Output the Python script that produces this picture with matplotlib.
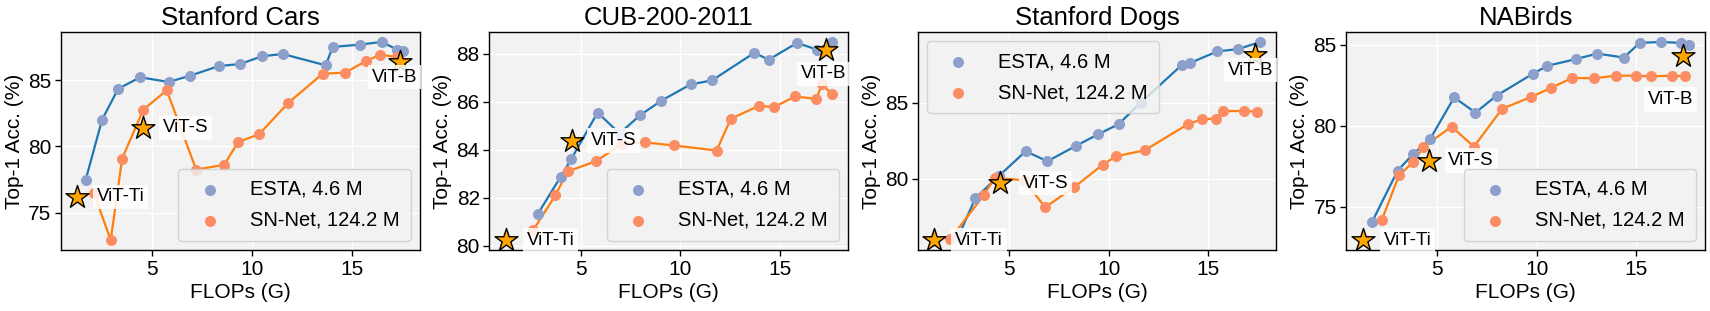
import matplotlib
matplotlib.use("Agg")
import matplotlib.pyplot as plt
from matplotlib.ticker import MultipleLocator

plt.rcParams['font.family'] = ['Liberation Sans', 'DejaVu Sans']

titles = ["Stanford Cars", "CUB-200-2011", "Stanford Dogs", "NABirds"]

# ESTA curves
cars_esta_x = [1.70, 2.52, 3.32, 4.42, 5.85, 6.92, 8.37, 9.42, 10.5, 11.55, 13.7, 14.05, 15.42, 16.5, 17.28, 17.58]
cars_esta_y = [77.49, 82.03, 84.35, 85.23, 84.87, 85.35, 86.08, 86.23, 86.81, 86.99, 86.13, 87.52, 87.70, 87.90, 87.32, 87.22]
cub_esta_x = [2.84, 4.0, 4.52, 5.85, 6.96, 7.97, 9.06, 10.52, 11.6, 13.73, 14.44, 15.87, 16.87, 17.61]
cub_esta_y = [81.32, 82.88, 83.6, 85.55, 84.68, 85.43, 86.05, 86.72, 86.89, 88.04, 87.75, 88.45, 88.17, 88.49]
dogs_esta_x = [2.47, 3.31, 4.5, 5.83, 6.92, 8.35, 9.45, 10.5, 11.6, 13.68, 14.07, 15.45, 16.5, 17.6]
dogs_esta_y = [76.26, 78.74, 80.2, 81.81, 81.15, 82.16, 82.91, 83.59, 85.0, 87.49, 87.6, 88.37, 88.52, 88.99]
nab_esta_x = [1.71, 3.01, 3.8, 4.63, 5.85, 6.92, 7.98, 9.82, 10.54, 11.96, 13.03, 14.38, 15.17, 16.22, 17.26, 17.63]
nab_esta_y = [74.03, 77.23, 78.26, 79.15, 81.74, 80.8, 81.85, 83.21, 83.69, 84.1, 84.44, 84.2, 85.1, 85.16, 85.1, 85.0]

# SN-Net curves
cars_sn_x = [2.1, 2.95, 3.52, 4.58, 5.75, 7.22, 8.62, 9.33, 10.37, 11.83, 13.55, 14.67, 15.7, 16.42, 17.25]
cars_sn_y = [76.5, 72.91, 79.08, 82.78, 84.24, 78.25, 78.6, 80.34, 80.92, 83.29, 85.5, 85.58, 86.44, 86.94, 86.76]
cub_sn_x = [2.62, 3.73, 4.35, 5.75, 7.1, 8.22, 9.68, 11.83, 12.54, 13.98, 14.69, 15.78, 16.82, 17.13, 17.6]
cub_sn_y = [80.66, 82.1, 83.1, 83.52, 84.25, 84.31, 84.18, 83.97, 85.29, 85.84, 85.77, 86.22, 86.12, 86.72, 86.33]
dogs_sn_x = [2.05, 3.73, 4.28, 5.75, 6.81, 8.27, 9.7, 10.37, 11.8, 13.98, 14.66, 15.36, 15.75, 16.79, 17.46]
dogs_sn_y = [76.04, 78.94, 80.07, 79.9, 78.13, 79.45, 80.93, 81.48, 81.87, 83.59, 83.9, 83.96, 84.45, 84.45, 84.41]
nab_sn_x = [2.21, 3.08, 3.8, 4.3, 5.72, 6.84, 8.26, 9.7, 10.74, 11.77, 12.9, 13.96, 15.0, 15.72, 16.79, 17.46]
nab_sn_y = [74.17, 76.95, 77.75, 78.68, 79.94, 78.7, 81.04, 81.76, 82.34, 82.94, 82.92, 83.08, 83.08, 83.04, 83.08, 83.04]

# ViT anchors
vit_names = ["ViT-Ti", "ViT-S", "ViT-B"]
cars_vit_x = [1.28, 4.58, 17.42]
cars_vit_y = [76.18, 81.4, 86.39]
cub_vit_x = [1.24, 4.55, 17.34]
cub_vit_y = [80.24, 84.38, 88.14]
dogs_vit_x = [1.24, 4.56, 17.34]
dogs_vit_y = [75.97, 79.71, 88.15]
nab_vit_x = [1.25, 4.58, 17.37]
nab_vit_y = [72.94, 77.84, 84.28]

panels = [
    (cars_esta_x, cars_esta_y, cars_sn_x, cars_sn_y, cars_vit_x, cars_vit_y),
    (cub_esta_x, cub_esta_y, cub_sn_x, cub_sn_y, cub_vit_x, cub_vit_y),
    (dogs_esta_x, dogs_esta_y, dogs_sn_x, dogs_sn_y, dogs_vit_x, dogs_vit_y),
    (nab_esta_x, nab_esta_y, nab_sn_x, nab_sn_y, nab_vit_x, nab_vit_y),
]

# layout settings per panel
y_steps = [5, 2, 5, 5]
legend_locs = ["lower right", "lower right", "upper left", "lower right"]
# label offsets (points) for ViT-Ti, ViT-S, ViT-B
label_offsets = [
    [(14, 0), (14, 0), (-4, -11)],
    [(15, 0), (14, 0), (-2, -17)],
    [(15, 0), (16, 0), (-3, -11)],
    [(15, 0), (14, 0), (-9, -31)],
]

fig, axes = plt.subplots(1, 4, figsize=(17.1, 3.11), dpi=100)
plt.subplots_adjust(left=0.0357, right=0.997, bottom=0.196, top=0.897, wspace=0.195)

for i, ax in enumerate(axes):
    ex, ey, sx, sy, vx, vy = panels[i]
    ax.set_facecolor('#f2f2f2')
    ax.grid(True, color='white', linewidth=1.0)
    ax.set_axisbelow(True)
    for sp in ax.spines.values():
        sp.set_color('black')
        sp.set_linewidth(1.0)

    ax.plot(ex, ey, color='#1f77b4', linewidth=1.6, zorder=2)
    ax.plot(sx, sy, color='#ff7f0e', linewidth=1.6, zorder=2)
    ax.scatter(ex, ey, s=48, color='#8da0cb', zorder=3, label='ESTA, 4.6 M')
    ax.scatter(sx, sy, s=48, color='#fc8d62', zorder=3, label='SN-Net, 124.2 M')
    ax.scatter(vx, vy, s=300, marker='*', color='#ffa500', edgecolor='black',
               linewidth=1.0, zorder=5)

    for j, name in enumerate(vit_names):
        dx, dy = label_offsets[i][j]
        ha = 'left' if j < 2 else 'center'
        ax.annotate(name, (vx[j], vy[j]), xytext=(dx, dy), textcoords='offset points',
                    ha=ha, va='center', fontsize=13.5, zorder=6,
                    bbox=dict(boxstyle='square,pad=0.2', facecolor='white',
                              edgecolor='none', alpha=0.85))

    ax.xaxis.set_major_locator(MultipleLocator(5))
    ax.yaxis.set_major_locator(MultipleLocator(y_steps[i]))
    ax.tick_params(axis='both', labelsize=15, length=4, width=1, color='black', pad=3)
    ax.set_xlabel('FLOPs (G)', fontsize=15, labelpad=3)
    ax.set_ylabel('Top-1 Acc. (%)', fontsize=15, labelpad=3)
    ax.set_title(titles[i], fontsize=18.5, pad=5)

    leg = ax.legend(loc=legend_locs[i], fontsize=14.5, handletextpad=1.0,
                    borderaxespad=0.45, framealpha=0.8, facecolor='#f2f2f2',
                    edgecolor='#cccccc', borderpad=0.55, labelspacing=0.6)
    leg.set_zorder(7)

plt.savefig('out.png', dpi=100)
